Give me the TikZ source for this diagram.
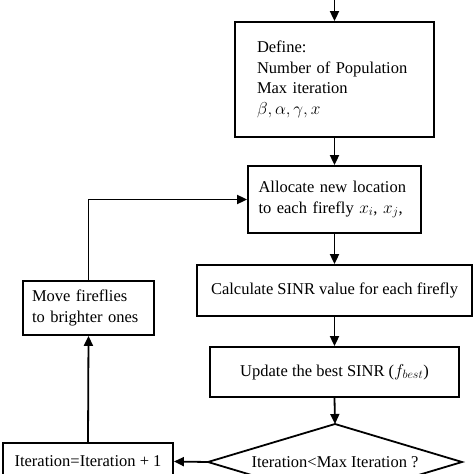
\documentclass[tikz,border=0pt]{standalone}
\usepackage{fontspec}
\setmainfont{Liberation Serif}
\usetikzlibrary{arrows.meta,shapes.geometric}
\begin{document}
\begin{tikzpicture}[x=1pt,y=-1pt,
 box/.style={draw,line width=1.8pt,inner sep=0pt,font=\fontsize{16.5}{20.5}\selectfont},
 arr/.style={line width=1.8pt,-{Triangle[length=10pt,width=9pt]}}]
\useasboundingbox (0,0) rectangle (474,474);
\clip (0,0) rectangle (474,474);
\node[box, minimum width=199pt, minimum height=115pt, text width=155pt, align=left] (def) at (334.5,79.5) {Define:\\Number of Population\\Max iteration\\$\beta,\alpha,\gamma,x$};
\node[box, minimum width=173pt, minimum height=67pt, text width=152pt, align=left] (alloc) at (334.5,199.5) {Allocate new location\\to each firefly $x_i$, $x_j$,};
\node[box, minimum width=275pt, minimum height=51pt, align=center] (calc) at (334.5,290.5) {Calculate SINR value for each firefly};
\node[box, minimum width=131pt, minimum height=54pt, text width=113pt, align=left] (move) at (88.5,308) {Move fireflies\\to brighter ones};
\node[box, minimum width=249pt, minimum height=50pt, align=center] (upd) at (334.5,372) {Update the best SINR ($f_{best}$)};
\coordinate (dN) at (335,424);
\coordinate (dE) at (462,462);
\coordinate (dS) at (335,500);
\coordinate (dW) at (208,462);
\draw[line width=1.8pt] (dN) -- (dE) -- (dS) -- (dW) -- cycle;
\node[font=\fontsize{16.5}{20.5}\selectfont, inner sep=0pt] (dec) at (335,462) {Iteration<Max Iteration ?};
\node[box, minimum width=170pt, minimum height=37pt, align=center] (iter) at (88,461.5) {Iteration=Iteration + 1};
\coordinate (top) at (334.5,0);
\draw[arr] (top) -- (def.north);
\draw[arr] (def.south) -- (alloc.north);
\draw[arr] (alloc.south) -- (calc.north);
\draw[arr] (calc.south) -- (upd.north);
\draw[arr] (upd.south) -- (dN);
\draw[arr] (dW) -- (iter.east);
\draw[arr] (iter.north) -- (move.south);
\draw[arr] (move.north) |- (alloc.west);
\end{tikzpicture}
\end{document}
